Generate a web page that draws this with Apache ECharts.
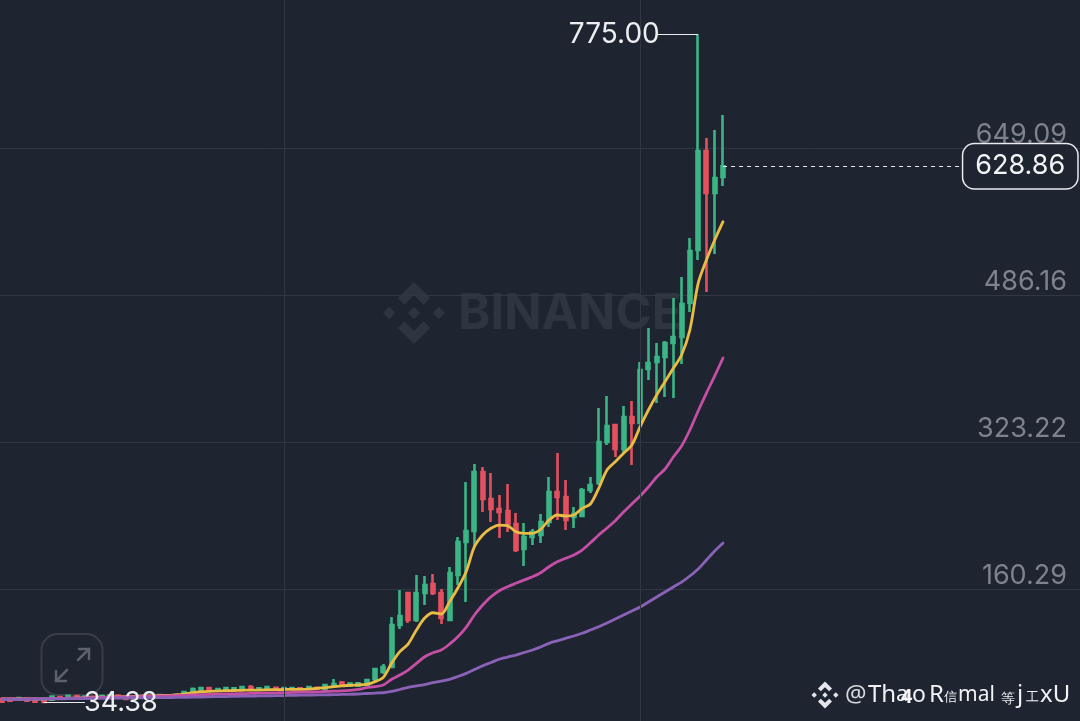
<!DOCTYPE html>
<html><head><meta charset="utf-8">
<style>html,body{margin:0;padding:0;background:#1e2430}#c{width:1080px;height:721px}</style>
<script src="https://cdn.jsdelivr.net/npm/echarts@6/dist/echarts.min.js"></script>
</head><body><div id="c"></div>
<script>
const tickValues=[160.29,323.22,486.16,649.09];
const gridCandles=[34,77];
const lastPrice=628.86, highPrice=775.00, lowPrice=34.38;
const openV=[38.4,38.0,38.2,38.8,37.9,37.2,37.5,40.6,39.2,41.6,39.9,40.8,39.7,41.0,42.2,39.9,38.6,40.2,41.0,40.0,41.2,41.6,42.8,46.0,49.0,50.5,48.6,48.9,49.2,49.6,51.6,49.4,49.6,50.8,49.8,49.8,50.2,49.4,50.9,49.8,53.0,56.5,53.4,53.0,
53.9,60.5,68.3,73.8,120.4,155.8,125.9,155.8,165.8,155.8,125.9,175.8,212.4,224.6,290.0,260.0,249.0,246.7,232.3,204.6,217.9,220.1,234.5,267.8,262.3,240.1,241.2,270.0,
277.8,323.2,342.1,315.4,350.9,344.3,404.1,411.9,417.4,432.9,439.6,477.3,536.0,645.8,599.2,616.9];
const closeV=[35.5,36.4,39.3,36.6,35.4,35.2,41.0,39.0,41.9,39.8,41.0,39.6,41.8,42.6,39.8,38.4,40.4,41.1,39.9,42.8,42.0,43.0,46.1,49.4,50.5,48.6,49.4,50.5,50.3,51.6,49.4,50.2,51.6,49.9,50.6,50.5,49.6,51.6,49.8,53.9,55.0,53.3,55.4,55.8,
59.4,71.6,73.8,120.4,130.3,125.9,155.8,164.7,155.8,128.1,178.0,212.4,224.6,290.0,260.0,249.0,245.6,232.3,203.5,217.9,223.5,234.5,267.8,262.3,236.7,243.4,270.0,275.6,
323.2,340.9,315.4,350.9,344.3,403.0,410.8,417.4,432.9,439.6,476.2,534.9,645.8,599.2,615.8,628.86];
const lowV=[35.0,35.8,37.8,36.0,34.9,34.38,37.0,38.4,38.8,39.2,39.5,39.1,39.4,40.6,39.2,37.9,38.2,39.8,39.5,39.7,40.8,41.2,42.4,45.6,48.4,48.0,48.0,48.4,48.8,49.2,49.0,49.0,49.2,49.5,49.4,49.5,49.3,49.0,49.5,49.5,52.0,52.8,53.0,52.8,
52.8,58.3,66.0,72.7,116.0,122.6,123.7,142.5,153.6,121.5,124.8,164.7,145.9,206.8,245.6,234.5,216.8,223.5,201.3,185.8,209.1,211.3,229.0,236.7,225.7,227.9,240.1,266.7,
275.6,319.9,306.6,311.0,297.7,344.3,391.9,366.4,373.1,372.0,409.7,467.3,525.0,489.5,531.6,607.0];
const highV=[38.9,38.6,39.9,39.2,38.3,37.8,41.6,41.2,42.4,42.0,41.4,41.2,42.3,43.2,42.6,40.3,40.9,41.6,41.4,43.4,42.4,43.5,46.8,51.0,51.6,51.6,50.0,51.2,50.8,52.2,53.9,50.8,52.0,51.2,51.0,50.9,50.6,52.0,51.2,54.4,60.5,58.3,56.1,56.4,
60.5,72.7,77.1,129.2,159.2,157.0,175.8,174.7,176.9,160.3,184.7,217.9,278.9,298.8,295.5,288.9,264.5,276.7,244.5,233.4,226.8,243.4,284.4,311.0,281.1,251.2,272.2,284.4,
360.9,374.2,343.2,363.1,368.7,411.9,449.6,432.9,435.2,482.8,506.1,549.3,775.0,660.2,669.0,685.7];
const maYellow=[38.4,38.4,38.4,38.4,38.4,38.4,38.6,38.9,39.1,39.5,39.7,40.0,40.3,40.6,40.8,41.1,41.3,41.7,41.9,42.2,42.4,42.8,43.9,45.5,46.4,46.9,47.2,47.6,47.8,48.0,48.3,48.3,48.6,48.8,48.9,49.1,49.1,49.4,50.0,51.1,52.0,53.0,53.5,54.1,
54.6,57.5,62.4,77.9,90.8,99.3,114.8,128.1,134.0,132.6,146.2,161.4,179.5,207.2,220.1,227.6,231.2,230.5,223.8,222.0,222.0,226.5,236.7,242.3,241.2,242.3,249.7,254.5,
271.9,292.2,301.4,310.7,319.9,340.2,358.7,375.3,390.1,404.9,419.6,447.4,499.1,525.0,547.1,567.4];
const maPink=[38.4,38.4,38.4,38.4,38.4,38.6,38.8,39.0,39.2,39.5,39.7,39.9,40.1,40.3,40.6,40.8,41.0,41.2,41.5,41.7,41.9,42.1,42.4,42.8,43.1,43.4,43.7,43.9,44.1,44.3,44.6,44.8,45.0,45.2,45.4,45.7,45.9,46.1,46.3,46.7,47.0,47.4,48.0,49.1,
50.9,52.0,53.9,60.2,64.9,70.5,77.9,85.2,89.7,92.7,99.3,107.4,117.8,131.5,142.5,151.7,158.4,162.8,166.6,170.3,173.9,178.3,185.0,190.5,194.3,198.0,203.5,211.5,
220.1,227.9,236.0,245.6,254.5,263.3,273.3,284.4,293.3,306.6,318.8,336.5,357.6,377.5,396.4,416.3];
const maPurple=[37.8,37.9,38.0,38.1,38.2,38.4,38.5,38.6,38.7,38.8,38.9,39.0,39.1,39.2,39.3,39.5,39.6,39.7,39.8,39.9,40.0,40.1,40.3,40.4,40.6,40.8,41.0,41.1,41.3,41.5,41.6,41.8,41.9,42.1,42.2,42.4,42.6,42.7,42.9,43.0,43.2,43.4,43.6,43.9,
44.5,45.0,45.3,46.7,48.9,51.3,52.8,54.4,56.4,58.3,60.2,63.3,66.8,71.0,75.3,78.8,82.4,84.9,87.1,89.9,92.7,96.0,100.1,102.9,105.6,108.2,111.2,114.8,
118.5,122.6,127.0,131.5,135.9,140.3,145.9,151.4,156.9,162.5,168.0,174.7,182.4,192.4,202.4,211.3];
const categories=[];for(let i=0;i<131;i++)categories.push(String(i));

const BG='#1e2430',GRID='#323843',UP='#3bb585',DOWN='#e5505f',FONT='"Noto Sans",sans-serif',NUM='Inter,sans-serif';
const candles=openV.map((o,i)=>[o,closeV[i],lowV[i],highV[i]]);

function logo(cx,cy,s,fill,z){
  const shapes=[
    [[0,-.2],[.2,0],[0,.2],[-.2,0]],
    [[-.8,-.2],[-.6,0],[-.8,.2],[-1,0]],
    [[.8,-.2],[1,0],[.8,.2],[.6,0]],
    [[0,-1],[.52,-.48],[.31,-.27],[0,-.58],[-.31,-.27],[-.52,-.48]],
    [[0,1],[.52,.48],[.31,.27],[0,.58],[-.31,.27],[-.52,.48]]];
  return shapes.map(p=>({type:'polygon',z:z,silent:true,shape:{points:p.map(q=>[cx+q[0]*s,cy+q[1]*s])},style:{fill:fill}}));
}
function line(a,b,c,d,col,w){return {type:'line',z:1,silent:true,shape:{x1:a,y1:b,x2:c,y2:d},style:{stroke:col,lineWidth:w,lineCap:'round'}};}
function txt(x,y,t,size,col,extra){return {type:'text',z:5,silent:true,x:x,y:y,style:Object.assign({text:t,font:size+'px '+FONT,fill:col,textVerticalAlign:'middle'},extra||{})};}

const ICON='#5d616a';
const graphics=[].concat(
  logo(414,313,31,'#2f3540',0),
  [{type:'text',z:0,silent:true,x:458,y:314,style:{text:'BINANCE',font:'bold 49px Inter,sans-serif',fill:'#2f3540',textVerticalAlign:'middle'}}],
  [{type:'rect',z:1,silent:true,shape:{x:41.5,y:634,width:61,height:61,r:16},style:{fill:'transparent',stroke:'#383d48',lineWidth:2}},
   line(56,681,67,670,ICON,2.5),line(56,681,56,671,ICON,2.5),line(56,681,66,681,ICON,2.5),
   line(78,660,89,649,ICON,2.5),line(89,649,79,649,ICON,2.5),line(89,649,89,659,ICON,2.5)],
  logo(825,695,13.5,'#e4e6ea',5),
  [txt(845,695,'@',24,'#d5d8dd'),txt(868,695,'Th',24,'#f1f2f4'),txt(896,695,'a',22,'#f1f2f4'),txt(901,697,'4',20,'#f6f6f6',{font:'bold 20px '+FONT}),txt(912,695,'o',23,'#f1f2f4'),
   txt(929,695,'R',24,'#f1f2f4'),txt(944,697,'信',13,'#f1f2f4'),txt(958,695,'mal',21,'#f1f2f4'),
   txt(1001,699,'等',14,'#f1f2f4'),txt(1017,695,'j',24,'#f1f2f4'),txt(1026,697,'工',13,'#f1f2f4'),txt(1040,695,'xU',24,'#f1f2f4')]
);

const chart=echarts.init(document.getElementById('c'),null,{renderer:'canvas'});
const maLine=(name,data,color)=>({name:name,type:'line',data:data,smooth:0.3,showSymbol:false,symbol:'none',z:4,silent:true,
  lineStyle:{color:color,width:2.8,cap:'round',join:'round'}});
chart.setOption({
  animation:false,backgroundColor:BG,
  graphic:{elements:graphics},
  grid:{left:-2.04,top:0,width:1085.5,height:721,containLabel:false,outerBoundsMode:'none'},
  xAxis:{type:'category',data:categories,boundaryGap:true,axisLine:{show:false},axisTick:{show:false},axisLabel:{show:false},splitLine:{show:false}},
  yAxis:{type:'value',position:'right',min:14,max:813.1,scale:true,
    axisLine:{show:false},
    axisTick:{show:false,customValues:tickValues},
    splitLine:{show:true,lineStyle:{color:GRID,width:1}},
    axisLabel:{inside:true,customValues:tickValues,formatter:v=>v.toFixed(2),color:'#7d828c',fontSize:27,fontFamily:NUM,margin:16.5,verticalAlign:'bottom',lineHeight:30,padding:[0,0,-2,0]}},
  series:[
    {name:'guides',type:'line',data:[],z:1,silent:true,showSymbol:false,
      markLine:{silent:true,symbol:'none',animation:false,label:{show:false},lineStyle:{color:GRID,width:1,type:'solid'},
        data:gridCandles.map(i=>({xAxis:i})).concat([
          [{coord:[87,lastPrice],lineStyle:{color:'#e8eaee',width:1,type:[4,4]},
            label:{show:true,position:'end',distance:0,formatter:lastPrice.toFixed(2),color:'#f2f3f5',fontSize:27,fontFamily:NUM,
              backgroundColor:BG,borderColor:'#e8eaee',borderWidth:1.5,borderRadius:11,padding:[9,12,8,12]}},
           {coord:[116,lastPrice]}],
          [{coord:[84,highPrice],lineStyle:{color:'#e8eaee',width:1.2,type:'solid'},
            label:{show:true,position:'end',distance:-3,formatter:highPrice.toFixed(2),color:'#eceef1',fontSize:28,fontFamily:NUM,padding:[3,0,0,0]}},
           {coord:[79,highPrice]}],
          [{coord:[5,lowPrice],lineStyle:{color:'#e8eaee',width:1.2,type:'solid'},
            label:{show:true,position:'end',distance:-1,formatter:lowPrice.toFixed(2),color:'#eceef1',fontSize:27,fontFamily:NUM,padding:[13,0,0,0]}},
           {coord:[10,lowPrice]}]
        ])}},
    {name:'price',type:'candlestick',data:candles,z:3,barWidth:3.5,silent:true,
      itemStyle:{color:UP,color0:DOWN,borderColor:UP,borderColor0:DOWN,borderColorDoji:UP,borderWidth:2.6}},
    maLine('MA7',maYellow,'#e9bc45'),
    maLine('MA25',maPink,'#c64fa6'),
    maLine('MA99',maPurple,'#8a62b8')
  ]
});
</script></body></html>
